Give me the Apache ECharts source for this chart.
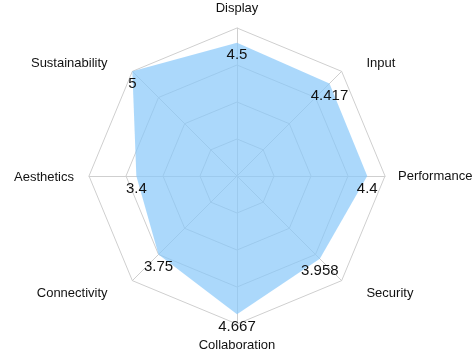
<!DOCTYPE html>
<html>
<head>
<meta charset="utf-8">
<script src="https://cdn.jsdelivr.net/npm/echarts@6/dist/echarts.min.js"></script>
<style>
  html, body { margin: 0; padding: 0; background: #fff; }
  #chart { width: 474px; height: 354px; }
</style>
</head>
<body>
<div id="chart"></div>
<script>
// Ratings per category, clockwise from the top
const categories = ["Display", "Input", "Performance", "Security", "Collaboration", "Connectivity", "Aesthetics", "Sustainability"];
const scores = [4.5, 4.417, 4.4, 3.958, 4.667, 3.75, 3.4, 5];
const maxScore = 5;

// echarts lays indicators out counter-clockwise, so keep the first and reverse the rest
const order = [0].concat(categories.map((_, i) => i).slice(1).reverse());

// nudge the axis names a bit further out on the slanted spokes
const nameStyle = {
  Input: "ur", Sustainability: "ul", Security: "lr", Connectivity: "ll",
  Performance: "r", Aesthetics: "l", Collaboration: "b", Display: "t",
};
const font = "Liberation Sans, Arial, sans-serif";
const rs = (padding) => ({ padding, color: "#111", fontSize: 13, fontFamily: font });

const chart = echarts.init(document.getElementById("chart"));
chart.setOption({
  animation: false,
  radar: {
    center: ["50%", 176],
    radius: 148,
    shape: "polygon",
    splitNumber: 4,
    indicator: order.map((i) => ({ name: categories[i], max: maxScore })),
    nameGap: 11,
    axisName: {
      color: "#111", fontSize: 13, fontFamily: font,
      formatter: (name) => `{${nameStyle[name]}|${name}}`,
      rich: {
        ur: rs([0, 0, 0, 17]), ul: rs([0, 17, 0, 0]),
        lr: rs([10, 0, 0, 17]), ll: rs([10, 17, 0, 0]),
        r: rs([0, 0, 0, 2]), l: rs([2, 4, 0, 0]),
        b: rs([4, 0, 0, 0]), t: rs([0, 0, 2, 0]),
      },
    },
    splitArea: { show: false },
    splitLine: { lineStyle: { color: "#cfcfcf", width: 1 } },
    axisLine: { lineStyle: { color: "#cfcfcf", width: 1 } },
  },
  series: [{
    type: "radar",
    symbol: "circle",
    symbolSize: 0,
    lineStyle: { width: 0 },
    areaStyle: { color: "#87c8fa", opacity: 0.7 },
    label: {
      show: true, position: "bottom", distance: 5,
      color: "#111", fontSize: 15, fontFamily: font,
    },
    data: [{ value: order.map((i) => scores[i]) }],
  }],
});
</script>
</body>
</html>
